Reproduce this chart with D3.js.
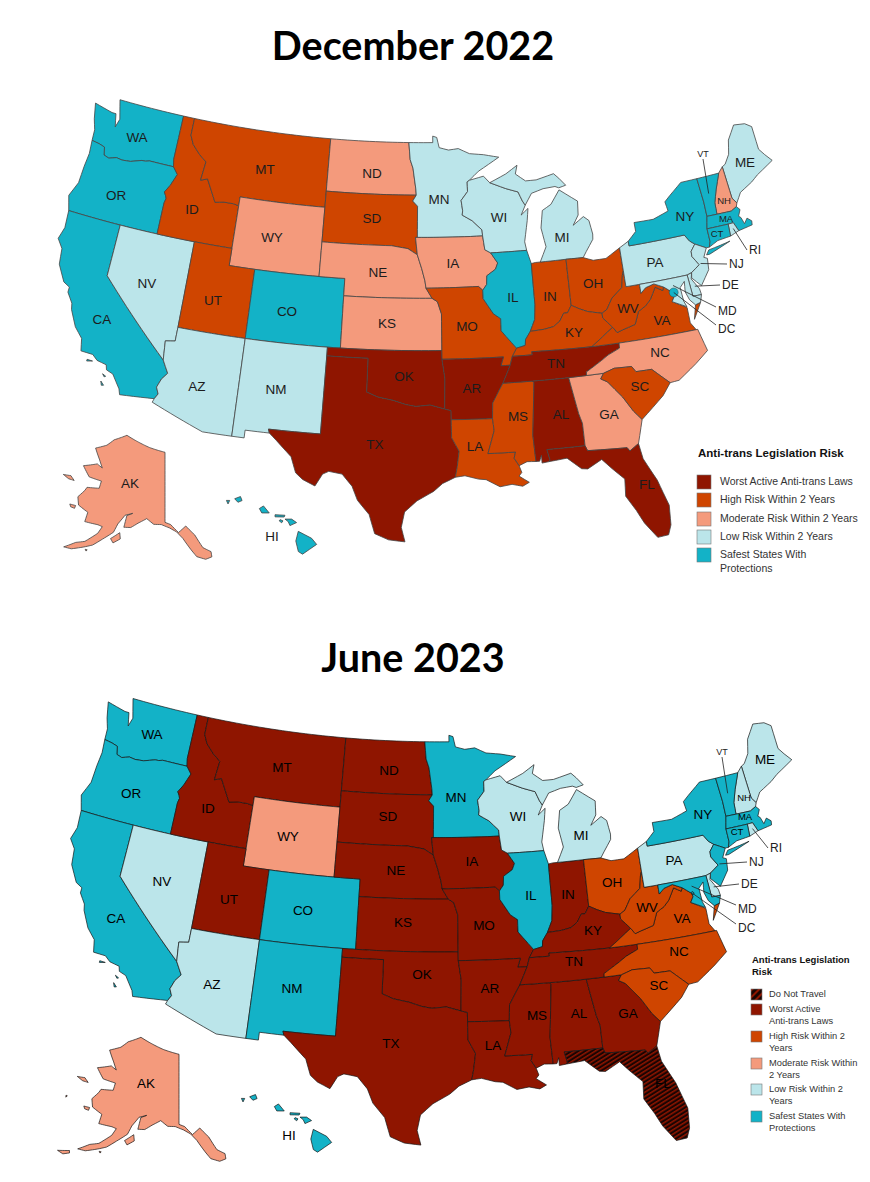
<!DOCTYPE html>
<html>
<head>
<meta charset="utf-8">
<script src="https://d3js.org/d3.v7.min.js"></script>
<style>
body { margin: 0; background: #fff; }
text { font-family: "Liberation Sans", Arial, sans-serif; }
</style>
</head>
<body>
<div id="chart"></div>
<script>
var riskLabels = ["Do Not Travel", "Worst Active Anti-trans Laws", "High Risk Within 2 Years", "Moderate Risk Within 2 Years", "Low Risk Within 2 Years", "Safest States With Protections"];
var riskColors = ["url(#hatch)", "#8f1500", "#cf4500", "#f49a7c", "#bbe5ea", "#13b2c7"];

// risk groups, index into riskLabels
var dec2022 = {
    1: ["TX","OK","AR","TN","AL","FL"],
    2: ["MT","ID","UT","SD","MO","IN","OH","KY","WV","VA","LA","MS","SC"],
    3: ["ND","WY","NE","KS","IA","NC","GA","AK","NH"],
    4: ["NV","AZ","NM","MN","WI","MI","ME","PA","NJ","DE","MD","RI"],
    5: ["WA","OR","CA","CO","IL","NY","VT","MA","CT","HI","DC"]
};
var jun2023 = {
    0: ["FL"],
    1: ["MT","ID","UT","ND","SD","NE","KS","OK","TX","IA","MO","AR","LA","MS","AL","GA","TN","KY","IN"],
    2: ["OH","WV","VA","NC","SC"],
    3: ["WY","AK"],
    4: ["NV","AZ","WI","MI","PA","ME","NH","DE","RI"],
    5: ["WA","OR","CA","CO","NM","MN","IL","NY","VT","MA","CT","NJ","MD","DC","HI"]
};

// state outlines, [lon, lat]
var outlines = {
WA: [[[-124.7,48.4],[-123.1,48.15],[-122.75,48.15],[-122.5,47.4],[-122.3,47.9],[-122.75,49],[-117.03,49],[-117.04,46.42],[-116.92,45.99],[-118.98,46],[-119.3,45.93],[-119.6,45.92],[-120.5,45.7],[-121.2,45.65],[-121.7,45.7],[-122.3,45.55],[-122.75,45.65],[-122.9,46.1],[-123.4,46.2],[-124.05,46.27],[-124.1,46.9],[-124.4,47.5]]],
OR: [[[-123.4,46.2],[-122.9,46.1],[-122.75,45.65],[-122.3,45.55],[-121.7,45.7],[-121.2,45.65],[-120.5,45.7],[-119.6,45.92],[-119.3,45.93],[-118.98,46],[-116.92,45.99],[-116.47,45.6],[-116.85,44.9],[-117.2,44.45],[-117.03,44.25],[-116.95,44.1],[-117.03,43.83],[-117.03,42],[-124.2,42],[-124.55,42.84],[-124.1,43.7],[-124.05,44.7],[-123.95,45.5],[-124.05,46.27]]],
CA: [[[-124.2,42],[-120,42],[-120,39],[-114.63,35],[-114.14,34.3],[-114.5,33.9],[-114.72,33.4],[-114.52,33.03],[-114.72,32.72],[-117.12,32.53],[-117.25,32.85],[-117.9,33.6],[-118.4,33.75],[-118.5,34.03],[-119.2,34.15],[-119.6,34.42],[-120.47,34.45],[-120.65,35.15],[-121.3,35.7],[-121.9,36.6],[-122,36.95],[-122.5,37.5],[-122.5,37.8],[-123,38],[-123.7,38.9],[-123.85,39.8],[-124.35,40.3],[-124.1,41]],
     [[-119.9,34.07],[-119.5,34.05],[-119.9,33.97]],
     [[-118.6,33.48],[-118.35,33.38],[-118.45,33.33]],
     [[-118.6,33.05],[-118.35,32.85],[-118.5,32.82]]],
NV: [[[-120,42],[-114.04,42],[-114.04,37],[-114.05,36.2],[-114.75,36.1],[-114.63,35],[-120,39]]],
ID: [[[-117.03,49],[-116.05,49],[-116.05,48],[-115.7,47.5],[-115,47],[-114.35,46.65],[-114.5,45.55],[-113.95,45.7],[-113.45,45.05],[-113,44.45],[-112.3,44.55],[-111.5,44.55],[-111.05,44.48],[-111.05,42],[-117.03,42],[-117.03,43.83],[-116.95,44.1],[-117.03,44.25],[-117.2,44.45],[-116.85,44.9],[-116.47,45.6],[-116.92,45.99],[-117.04,46.42]]],
MT: [[[-116.05,49],[-104.05,49],[-104.05,45],[-111.05,45],[-111.05,44.48],[-111.5,44.55],[-112.3,44.55],[-113,44.45],[-113.45,45.05],[-113.95,45.7],[-114.5,45.55],[-114.35,46.65],[-115,47],[-115.7,47.5],[-116.05,48]]],
WY: [[[-111.05,45],[-104.05,45],[-104.05,41],[-111.05,41]]],
UT: [[[-114.04,42],[-111.05,42],[-111.05,41],[-109.05,41],[-109.05,37],[-114.04,37]]],
CO: [[[-109.05,41],[-102.05,41],[-102.05,37],[-109.05,37]]],
AZ: [[[-114.04,37],[-109.05,37],[-109.05,31.33],[-111.07,31.33],[-114.81,32.5],[-114.72,32.72],[-114.52,33.03],[-114.72,33.4],[-114.5,33.9],[-114.14,34.3],[-114.63,35],[-114.75,36.1],[-114.05,36.2]]],
NM: [[[-109.05,37],[-103,37],[-103,36.5],[-103.04,32],[-106.62,32],[-106.53,31.78],[-108.2,31.78],[-108.2,31.33],[-109.05,31.33]]],
ND: [[[-104.05,49],[-97.23,49],[-97.1,48],[-96.85,47.5],[-96.6,46.3],[-96.56,45.94],[-104.05,45.94]]],
SD: [[[-104.05,45.94],[-96.56,45.94],[-96.85,45.6],[-96.45,45.3],[-96.45,43.5],[-96.6,43.5],[-96.45,42.5],[-97.2,42.85],[-98.5,43],[-104.05,43]]],
NE: [[[-104.05,43],[-98.5,43],[-97.2,42.85],[-96.45,42.5],[-96.1,41.7],[-95.85,41],[-95.77,40.58],[-95.31,40],[-102.05,40],[-102.05,41],[-104.05,41]]],
KS: [[[-102.05,40],[-95.31,40],[-94.9,39.8],[-94.61,39.1],[-94.62,37],[-102.05,37]]],
OK: [[[-103,37],[-94.62,37],[-94.62,36.5],[-94.43,35.4],[-94.48,33.64],[-95.5,33.88],[-96.5,33.8],[-97.2,33.9],[-98.1,34.13],[-99.2,34.3],[-100,34.56],[-100,36.5],[-103,36.5]]],
TX: [[[-103,36.5],[-100,36.5],[-100,34.56],[-99.2,34.3],[-98.1,34.13],[-97.2,33.9],[-96.5,33.8],[-95.5,33.88],[-94.48,33.64],[-94.04,33.55],[-94.04,33.02],[-94.04,31.99],[-93.55,31.2],[-93.7,30.3],[-93.84,29.7],[-94.7,29.35],[-95.3,28.9],[-96.4,28.35],[-97.2,27.7],[-97.4,26.8],[-97.15,25.96],[-98.2,26.06],[-99.1,26.4],[-99.5,27.5],[-100.3,28.3],[-100.7,29.1],[-101.4,29.77],[-102.3,29.88],[-102.7,29.7],[-103.15,28.98],[-104,29.3],[-104.5,29.65],[-104.9,30.55],[-106,31.4],[-106.53,31.78],[-106.62,32],[-103.04,32]]],
MN: [[[-97.23,49],[-95.15,49],[-95.15,49.38],[-94.8,49.3],[-94.6,48.7],[-93.8,48.55],[-92.95,48.62],[-92,48.3],[-90.8,48.2],[-89.5,48],[-91.3,47.25],[-92.1,46.75],[-92.29,46.66],[-92.29,46.1],[-92.85,45.6],[-92.75,45],[-92.8,44.75],[-92,44.4],[-91.25,43.85],[-91.22,43.5],[-96.45,43.5],[-96.45,45.3],[-96.85,45.6],[-96.56,45.94],[-96.6,46.3],[-96.85,47.5],[-97.1,48]]],
IA: [[[-96.6,43.5],[-91.22,43.5],[-91.1,42.7],[-90.65,42.5],[-90.15,41.9],[-90.35,41.55],[-91.05,41.2],[-91.1,40.7],[-91.42,40.38],[-91.73,40.61],[-95.77,40.58],[-95.85,41],[-96.1,41.7],[-96.45,42.5]]],
MO: [[[-95.77,40.58],[-95.31,40],[-94.9,39.8],[-94.61,39.1],[-94.62,36.5],[-90.15,36.5],[-90.37,36],[-89.7,36],[-89.5,36.5],[-89.15,36.95],[-89.5,37.3],[-90.2,38],[-90.18,38.7],[-90.7,39],[-91.42,39.9],[-91.42,40.38],[-91.73,40.61]]],
AR: [[[-94.62,36.5],[-90.15,36.5],[-90.37,36],[-89.7,36],[-90.3,35],[-90.6,34.6],[-91.1,33.9],[-91.17,33],[-94.04,33.02],[-94.04,33.55],[-94.48,33.64],[-94.43,35.4]]],
LA: [[[-94.04,33.02],[-91.17,33],[-91.1,32.3],[-91.6,31],[-89.73,31],[-89.85,30.65],[-89.55,30.2],[-89.4,29.8],[-89.6,29.6],[-88.95,29.2],[-89.4,29],[-90.1,29.15],[-90.9,29.05],[-91.8,29.5],[-92.3,29.55],[-93.2,29.77],[-93.84,29.7],[-93.7,30.3],[-93.55,31.2],[-94.04,31.99]]],
MS: [[[-90.3,35],[-88.2,35],[-88.1,34.9],[-88.47,31.9],[-88.4,30.37],[-89,30.4],[-89.55,30.2],[-89.85,30.65],[-89.73,31],[-91.6,31],[-91.1,32.3],[-91.17,33],[-91.1,33.9],[-90.6,34.6]]],
AL: [[[-88.2,35],[-85.6,35],[-85.18,32.87],[-85,32.3],[-85,31],[-87.6,31],[-87.45,30.4],[-87.5,30.3],[-88,30.25],[-88,30.7],[-88.15,30.37],[-88.4,30.37],[-88.47,31.9],[-88.1,34.9]]],
GA: [[[-85.6,35],[-83.1,35],[-83.35,34.7],[-82.9,34.48],[-82,33.5],[-81.4,32.6],[-80.9,32.05],[-81.4,30.71],[-82.05,30.36],[-82.2,30.57],[-84.87,30.7],[-85,31],[-85,32.3],[-85.18,32.87]]],
FL: [[[-87.6,31],[-85,31],[-84.87,30.7],[-82.2,30.57],[-82.05,30.36],[-81.4,30.71],[-81.25,29.8],[-80.55,28.45],[-80.05,26.9],[-80.15,25.75],[-80.4,25.2],[-81.1,25.15],[-81.8,26.1],[-82.2,26.9],[-82.75,27.8],[-82.65,28.8],[-83.4,29.5],[-84,30.1],[-85,29.65],[-85.4,29.7],[-86.3,30.4],[-87.5,30.3],[-87.45,30.4]]],
WI: [[[-92.29,46.66],[-92.1,46.75],[-90.9,46.95],[-90.4,46.55],[-89.1,46.15],[-88.1,45.9],[-87.8,45.35],[-87.6,45.1],[-88,44.55],[-87.4,44.9],[-87.55,44.2],[-87.9,43],[-87.8,42.5],[-90.65,42.5],[-91.1,42.7],[-91.22,43.5],[-91.25,43.85],[-92,44.4],[-92.8,44.75],[-92.75,45],[-92.85,45.6],[-92.29,46.1]]],
IL: [[[-90.65,42.5],[-87.8,42.5],[-87.53,41.72],[-87.53,39.35],[-87.65,38.5],[-88.05,37.85],[-88.45,37.4],[-88.5,37.07],[-89.15,36.95],[-89.5,37.3],[-90.2,38],[-90.18,38.7],[-90.7,39],[-91.42,39.9],[-91.42,40.38],[-91.1,40.7],[-91.05,41.2],[-90.35,41.55],[-90.15,41.9]]],
IN: [[[-87.53,41.72],[-87.2,41.76],[-84.8,41.76],[-84.82,39.1],[-85.15,38.7],[-85.45,38.7],[-85.8,38.27],[-86.3,38],[-87,37.9],[-88.05,37.85],[-87.65,38.5],[-87.53,39.35]]],
MI: [[[-86.82,41.76],[-84.8,41.76],[-83.45,41.73],[-83.15,42.05],[-82.5,42.7],[-82.45,43],[-82.6,43.8],[-83,44.07],[-83.9,43.65],[-83.4,44.2],[-83.3,45],[-84.7,45.78],[-85.5,45],[-86.25,44.7],[-86.5,43.7],[-86.25,42.6]],
     [[-90.4,46.55],[-89.1,46.15],[-88.1,45.9],[-87.8,45.35],[-87.6,45.1],[-87,45.75],[-86,45.95],[-85,46],[-84.7,45.9],[-84.1,46],[-84.6,46.45],[-85,46.75],[-86.5,46.5],[-87.4,46.5],[-88.2,46.95],[-88,47.45],[-89,47]]],
OH: [[[-84.82,39.1],[-84.8,41.76],[-83.45,41.73],[-82.7,41.5],[-81.7,41.5],[-80.52,41.98],[-80.52,40.64],[-80.65,40.4],[-80.85,39.7],[-81.7,39.2],[-82.2,38.6],[-82.6,38.42],[-83.65,38.63],[-84.25,38.85]]],
KY: [[[-89.5,36.5],[-89.15,36.95],[-88.5,37.07],[-88.45,37.4],[-88.05,37.85],[-87,37.9],[-86.3,38],[-85.8,38.27],[-85.45,38.7],[-85.15,38.7],[-84.82,39.1],[-84.25,38.85],[-83.65,38.63],[-82.6,38.42],[-82.6,38.15],[-81.97,37.54],[-83.68,36.6],[-88.07,36.68],[-88.05,36.5]]],
TN: [[[-89.5,36.5],[-88.05,36.5],[-88.07,36.68],[-83.68,36.6],[-81.68,36.59],[-81.7,36.3],[-82.6,36],[-83.1,35.75],[-84.3,35.2],[-84.32,35],[-85.6,35],[-88.2,35],[-90.3,35],[-89.7,36]]],
VA: [[[-83.68,36.6],[-81.97,37.54],[-81.7,37.2],[-81.3,37.3],[-80.3,37.5],[-79.9,38.2],[-79.3,38.45],[-78.87,38.76],[-78.35,39.4],[-77.83,39.13],[-77.72,39.32],[-77.1,38.9],[-77.05,38.7],[-77.3,38.4],[-76.3,37.9],[-76.3,37],[-75.98,36.55],[-81.68,36.59]],
     [[-75.95,37.15],[-75.65,37.95],[-75.24,38.03]]],
WV: [[[-82.6,38.42],[-82.2,38.6],[-81.7,39.2],[-80.85,39.7],[-80.65,40.4],[-80.52,40.64],[-80.52,39.72],[-79.48,39.72],[-79.48,39.2],[-79.07,39.47],[-78.4,39.6],[-77.72,39.32],[-77.83,39.13],[-78.35,39.4],[-78.87,38.76],[-79.3,38.45],[-79.9,38.2],[-80.3,37.5],[-81.3,37.3],[-81.7,37.2],[-81.97,37.54],[-82.6,38.15]]],
PA: [[[-80.52,41.98],[-79.76,42.27],[-79.76,42],[-75.35,42],[-75.05,41.6],[-74.7,41.36],[-75.1,41],[-75.13,40.7],[-74.72,40.15],[-75.42,39.8],[-75.79,39.72],[-80.52,39.72],[-80.52,40.64]]],
NY: [[[-79.76,42.27],[-79.76,42],[-75.35,42],[-75.05,41.6],[-74.7,41.36],[-73.9,41],[-73.65,41],[-73.5,41.3],[-73.5,42.05],[-73.27,42.75],[-73.25,43.6],[-73.35,45],[-74.7,45],[-75.8,44.4],[-76.3,44.1],[-76.2,43.55],[-77.5,43.25],[-79.05,43.27],[-79.05,42.75]],
     [[-74,40.6],[-73.75,40.6],[-72,41.05],[-72.8,40.95],[-73.75,40.85]]],
NJ: [[[-74.7,41.36],[-73.9,41],[-74.25,40.5],[-74,40.4],[-74.1,39.75],[-74.9,38.95],[-75.5,39.5],[-75.42,39.8],[-74.72,40.15],[-75.13,40.7],[-75.1,41]]],
DE: [[[-75.79,39.72],[-75.42,39.8],[-75.55,39.45],[-75.1,38.8],[-75.05,38.45],[-75.7,38.46]]],
MD: [[[-79.48,39.72],[-75.79,39.72],[-75.7,38.46],[-75.05,38.45],[-75.24,38.03],[-75.65,37.95],[-76,38.3],[-76.2,38.8],[-76.1,39.4],[-76.5,39.1],[-76.45,38.3],[-76.3,37.95],[-77.3,38.4],[-77.05,38.7],[-77.1,38.9],[-77.72,39.32],[-78.4,39.6],[-79.07,39.47],[-79.48,39.2]]],
DC: [[[-77.12,38.93],[-77.04,39],[-76.91,38.89],[-77.04,38.79]]],
NC: [[[-81.68,36.59],[-75.87,36.55],[-75.5,35.25],[-76.5,34.65],[-77.9,33.9],[-78.55,33.86],[-79.67,34.8],[-80.8,34.82],[-81.05,35.15],[-82.3,35.2],[-83.1,35],[-84.32,35],[-84.3,35.2],[-83.1,35.75],[-82.6,36],[-81.7,36.3]]],
SC: [[[-83.1,35],[-82.3,35.2],[-81.05,35.15],[-80.8,34.82],[-79.67,34.8],[-78.55,33.86],[-79.2,33.2],[-80.9,32.05],[-81.4,32.6],[-82,33.5],[-82.9,34.48],[-83.35,34.7]]],
ME: [[[-71.08,45.3],[-70.8,45.4],[-70.3,45.9],[-70,46.7],[-69.23,47.46],[-68.3,47.35],[-67.8,47.07],[-67.8,45.7],[-67.45,45.3],[-67,44.85],[-68.5,44.3],[-69.1,44],[-70.2,43.6],[-70.7,43.07],[-70.98,43.4]]],
NH: [[[-71.08,45.3],[-70.98,43.4],[-70.7,43.07],[-70.82,42.87],[-71.3,42.7],[-72.46,42.73],[-72.4,43.4],[-72.05,44.1],[-71.5,45]]],
VT: [[[-73.35,45],[-71.5,45],[-72.05,44.1],[-72.4,43.4],[-72.46,42.73],[-73.27,42.75],[-73.25,43.6]]],
MA: [[[-73.5,42.05],[-71.8,42.02],[-71.38,42.02],[-71.13,41.5],[-70.65,41.55],[-70,41.62],[-69.95,41.85],[-70.25,42.07],[-70.55,41.8],[-70.7,42.2],[-70.85,42.3],[-70.6,42.65],[-70.82,42.87],[-71.3,42.7],[-72.46,42.73],[-73.27,42.75]]],
RI: [[[-71.8,42.02],[-71.38,42.02],[-71.13,41.5],[-71.85,41.32]]],
CT: [[[-73.5,42.05],[-71.8,42.02],[-71.85,41.32],[-72.9,41.25],[-73.65,41],[-73.5,41.3]]],
AK: [[[-141,69.65],[-141,60.3],[-139.5,60],[-137.5,58.9],[-135.5,59.7],[-133.4,58.4],[-131.8,56.6],[-130,55.9],[-130,55.2],[-131.5,55],[-133.5,55.5],[-134.7,56.5],[-136.5,58.1],[-138,59],[-139.8,59.55],[-142,60],[-144,60],[-146,60.7],[-148.2,60],[-150,59.3],[-151.8,59.2],[-151.5,60.8],[-150,61.2],[-152,60.8],[-153.5,59.5],[-154.2,58.3],[-156.5,57.1],[-158.5,56],[-160.5,55.4],[-163,54.7],[-164.8,54.6],[-162.5,55.7],[-160.5,56.2],[-158,57.7],[-157.3,58.7],[-158.5,58.8],[-162,58.7],[-162,60],[-165,60.5],[-166,61.5],[-164.8,62.6],[-164.5,63.1],[-161,63.5],[-161,64.5],[-165,64.5],[-168,65.6],[-164,66.5],[-162,66.2],[-163.7,67.1],[-166.5,68.4],[-163,69.3],[-161,70.3],[-156.6,71.35],[-152,70.8],[-147,70.2]],
     [[-154.6,57.4],[-152.6,58.4],[-152.2,57.6],[-153.8,56.9]],
     [[-172.5,63.4],[-170.3,63.7],[-168.8,63.3],[-170.5,63.2]],
     [[-167.3,60.2],[-165.7,60.3],[-165.7,59.9],[-166.8,59.9]],
     [[-172.9,60.5],[-172.5,60.5],[-172.7,60.25]],
     [[-168.9,53.4],[-166.4,54],[-166.2,53.7],[-167.5,53.25]],
     [[-159.9,55.2],[-159.4,55.2],[-159.6,55]]],
HI: [[[-155.9,20.25],[-155.1,19.85],[-154.8,19.5],[-155.65,18.95],[-155.9,19.1],[-156.05,19.7]],
     [[-156.7,20.95],[-156.3,20.95],[-156,20.75],[-156.4,20.58],[-156.5,20.8]],
     [[-157.3,21.2],[-156.7,21.17],[-156.75,21.07],[-157.3,21.08]],
     [[-157,20.92],[-156.82,20.85],[-156.9,20.74],[-157.05,20.85]],
     [[-158.25,21.55],[-158,21.7],[-157.65,21.3],[-158.1,21.3]],
     [[-159.75,22.1],[-159.4,22.23],[-159.3,22],[-159.55,21.9]],
     [[-160.25,22],[-160.05,22],[-160.15,21.8]]]
};

var calloutNames = ["VT","RI","NJ","DE","MD","DC"];
var calloutEnds = [[-72.7,44],[-71.5,41.7],[-74.6,40.2],[-75.4,39],[-77,39.3],[-77.05,38.9]];
var smallNames = ["NH","MA","CT"];

var panels = [
    { title: "December 2022", titleY: 60, risks: dec2022, dcDot: 4.5,
      scale: 990, center: [415,321], ak: [165,502], hi: [280,527],
      stroke: "#444", strokeW: 0.8, labelFill: "#1c1c1c",
      labels: {WA:[137,137],OR:[116,195],CA:[102,319],NV:[147,283],ID:[192,209],MT:[265,169],WY:[272,237],UT:[213,300],AZ:[197,386],CO:[287,311],NM:[276,389],ND:[372,173],SD:[372,218],NE:[378,272],KS:[387,323],OK:[404,376],TX:[375,444],MN:[439,199],IA:[453,263],MO:[467,326],AR:[472,388],LA:[475,446],WI:[499,217],IL:[513,297],MS:[518,416],MI:[562,237],IN:[550,296],KY:[574,332],TN:[556,363],AL:[561,414],OH:[593,283],GA:[609,414],FL:[647,484],SC:[640,386],NC:[660,352],VA:[662,320],WV:[628,308],PA:[655,262],NY:[685,216],ME:[745,162],AK:[130,483],HI:[272,536],NH:[724,201],MA:[726,219],CT:[717,234]},
      calloutText: [[703,154],[749,250],[729,264],[722,285],[718,311],[718,329]],
      legendTitle: ["Anti-trans Legislation Risk"], legendX: 697, legendTitleY: 457, swatch: 14, legendFont: 10.5, titleFont: 11.5,
      legendRows: [
        {risk:1, y:475, lines:["Worst Active Anti-trans Laws"]},
        {risk:2, y:493, lines:["High Risk Within 2 Years"]},
        {risk:3, y:512, lines:["Moderate Risk Within 2 Years"]},
        {risk:4, y:530, lines:["Low Risk Within 2 Years"]},
        {risk:5, y:548, lines:["Safest States With","Protections"]}
      ], lineGap: 14 },
    { title: "June 2023", titleY: 672, risks: jun2023, dcDot: 0,
      scale: 1000, center: [431,922], ak: [179,1104], hi: [295,1125],
      stroke: "#151515", strokeW: 0.7, labelFill: "#000",
      labels: {WA:[152,734],OR:[131,793],CA:[116,918],NV:[162,881],ID:[208,808],MT:[282,767],WY:[288,836],UT:[229,899],AZ:[212,984],CO:[303,910],NM:[292,988],ND:[389,770],SD:[388,816],NE:[396,870],KS:[403,922],OK:[422,974],TX:[391,1043],MN:[456,797],IA:[472,861],MO:[484,925],AR:[490,988],LA:[493,1045],WI:[518,816],IL:[531,895],MS:[537,1015],MI:[581,835],IN:[568,894],KY:[593,930],TN:[574,961],AL:[579,1013],OH:[612,882],GA:[628,1013],FL:[663,1083],SC:[659,985],NC:[679,951],VA:[682,918],WV:[647,907],PA:[674,860],NY:[703,814],ME:[765,759],AK:[146,1083],HI:[289,1135],NH:[744,798],MA:[745,817],CT:[737,832]},
      calloutText: [[722,752],[770,848],[749,862],[741,884],[738,909],[738,928]],
      legendTitle: ["Anti-trans Legislation","Risk"], legendX: 751, legendTitleY: 963, swatch: 11, legendFont: 9.3, titleFont: 9.5,
      legendRows: [
        {risk:0, y:989, lines:["Do Not Travel"]},
        {risk:1, y:1004, lines:["Worst Active","Anti-trans Laws"]},
        {risk:2, y:1031, lines:["High Risk Within 2","Years"]},
        {risk:3, y:1058, lines:["Moderate Risk Within","2 Years"]},
        {risk:4, y:1084, lines:["Low Risk Within 2","Years"]},
        {risk:5, y:1111, lines:["Safest States With","Protections"]}
      ], lineGap: 12 }
];

function densify(ring) {
    var out = [];
    ring.forEach(function (p, i) {
        var q = ring[(i + 1) % ring.length];
        var n = Math.ceil(Math.max(Math.abs(q[0] - p[0]), Math.abs(q[1] - p[1])) / 0.5);
        for (var k = 0; k < n; k++) {
            out.push([p[0] + (q[0] - p[0]) * k / n, p[1] + (q[1] - p[1]) * k / n]);
        }
    });
    out.push(out[0]);
    return out;
}

function toFeature(name) {
    var polys = outlines[name].map(function (ring) {
        var r = densify(ring);
        if (d3.geoArea({type: "Polygon", coordinates: [r]}) > 2 * Math.PI) r.reverse();
        return [r];
    });
    return {type: "Feature", id: name, geometry: {type: "MultiPolygon", coordinates: polys}};
}

function addHatch(defs, id, size, angle, red) {
    var p = defs.append("pattern").attr("id", id)
        .attr("patternUnits", "userSpaceOnUse").attr("width", size).attr("height", size)
        .attr("patternTransform", "rotate(" + angle + ")");
    p.append("rect").attr("width", size).attr("height", size).attr("fill", "#1a0503");
    p.append("rect").attr("width", size).attr("height", red).attr("fill", "#8f1500");
}

var svg = d3.select("#chart").append("svg").attr("width", 870).attr("height", 1182);
var defs = svg.append("defs");
addHatch(defs, "hatch", 3.6, -32, 1.5);
addHatch(defs, "hatchWide", 5, -45, 2);
// the picture is cropped on the left, through the far Aleutians
defs.append("clipPath").attr("id", "page").append("rect")
    .attr("x", 56).attr("y", 0).attr("width", 814).attr("height", 1182);

var features = Object.keys(outlines).map(toFeature);

panels.forEach(function (cfg) {
    var lower48 = d3.geoAlbers().scale(cfg.scale).translate(cfg.center);
    var alaska = d3.geoConicEqualArea().rotate([141,0]).center([0,63]).parallels([55,65]).scale(430).translate(cfg.ak);
    var hawaii = d3.geoConicEqualArea().rotate([157,0]).center([0,20.5]).parallels([8,18]).scale(1010).translate(cfg.hi);
    function projFor(name) { return name == "AK" ? alaska : name == "HI" ? hawaii : lower48; }

    var riskOf = {};
    Object.keys(cfg.risks).forEach(function (k) {
        cfg.risks[k].forEach(function (s) { riskOf[s] = +k; });
    });

    var g = svg.append("g").attr("clip-path", "url(#page)");

    g.append("text").attr("x", 413).attr("y", cfg.titleY).attr("text-anchor", "middle")
        .style("font-family", "Lato").style("font-weight", 700).style("font-size", "39.5px")
        .attr("fill", "#000").text(cfg.title);

    g.selectAll("path.state").data(features).enter().append("path").attr("class", "state")
        .attr("d", function (d) { return d3.geoPath(projFor(d.id))(d); })
        .attr("fill", function (d) { return riskColors[riskOf[d.id]]; })
        .attr("stroke", cfg.stroke).attr("stroke-width", cfg.strokeW).attr("stroke-linejoin", "round");

    if (cfg.dcDot) {
        var dc = lower48([-77.05,38.9]);
        g.append("circle").attr("cx", dc[0]).attr("cy", dc[1]).attr("r", cfg.dcDot)
            .attr("fill", riskColors[5]).attr("stroke", "#333").attr("stroke-width", 0.4);
    }

    g.selectAll("text.abbr").data(Object.keys(cfg.labels)).enter().append("text").attr("class", "abbr")
        .attr("x", function (d) { return cfg.labels[d][0]; })
        .attr("y", function (d) { return cfg.labels[d][1]; })
        .attr("text-anchor", "middle").attr("dy", "0.35em")
        .style("font-size", function (d) { return smallNames.indexOf(d) >= 0 ? "9.5px" : "13.5px"; })
        .attr("fill", cfg.labelFill).text(function (d) { return d; });

    calloutNames.forEach(function (name, i) {
        var t = cfg.calloutText[i], e = lower48(calloutEnds[i]);
        var sx = name == "VT" ? t[0] : t[0] - 2, sy = name == "VT" ? t[1] + 5 : (i > 3 ? t[1] - 4 : t[1]);
        g.append("line").attr("x1", sx).attr("y1", sy).attr("x2", e[0]).attr("y2", e[1])
            .attr("stroke", "#222").attr("stroke-width", 0.8);
        g.append("text").attr("x", t[0]).attr("y", t[1]).attr("dy", "0.35em")
            .attr("text-anchor", name == "VT" ? "middle" : "start")
            .style("font-size", name == "VT" ? "9px" : "12px").attr("fill", "#222").text(name);
    });

    // legend
    cfg.legendTitle.forEach(function (line, i) {
        g.append("text").attr("x", cfg.legendX + 1).attr("y", cfg.legendTitleY + i * 12)
            .style("font-weight", "bold").style("font-size", cfg.titleFont + "px").attr("fill", "#111").text(line);
    });
    var rows = g.selectAll("g.row").data(cfg.legendRows).enter().append("g").attr("class", "row")
        .attr("transform", function (d) { return "translate(" + cfg.legendX + "," + d.y + ")"; });
    rows.append("rect").attr("width", cfg.swatch).attr("height", cfg.swatch)
        .attr("fill", function (d) { return d.risk == 0 ? "url(#hatchWide)" : riskColors[d.risk]; })
        .attr("stroke", "#777").attr("stroke-width", 0.6);
    rows.each(function (d) {
        var row = d3.select(this);
        d.lines.forEach(function (line, i) {
            row.append("text").attr("x", cfg.swatch + 9 - (cfg.swatch == 11 ? 2 : 0)).attr("y", cfg.swatch - 4 + i * cfg.lineGap + (cfg.swatch == 11 ? 1 : 0))
                .style("font-size", cfg.legendFont + "px").attr("fill", "#333").text(line);
        });
    });
});
</script>
</body>
</html>
